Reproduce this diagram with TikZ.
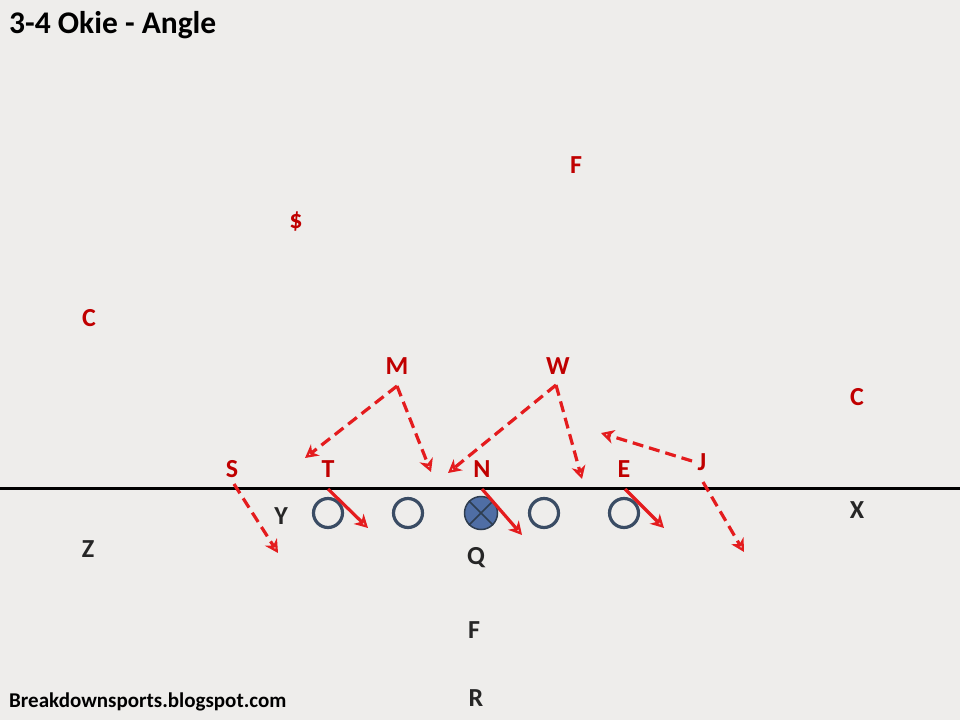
\documentclass[tikz,border=0pt]{standalone}
\usepackage{fontspec}
\setmainfont{Carlito}
\usetikzlibrary{arrows.meta}
\definecolor{bg}{RGB}{238,237,235}
\definecolor{defred}{RGB}{192,0,0}
\definecolor{arrred}{RGB}{228,28,30}
\definecolor{oline}{RGB}{58,76,100}
\definecolor{ofill}{RGB}{79,110,165}
\tikzset{
  defl/.style={text=defred,font=\fontsize{26}{26}\selectfont\bfseries,inner sep=0pt},
  offl/.style={text=black!85,font=\fontsize{26}{26}\selectfont\bfseries,inner sep=0pt},
  oman/.style={circle,draw=oline,line width=3.2pt,minimum size=29pt,inner sep=0pt},
  center/.style={circle,draw=oline!80!black,fill=ofill,line width=1.5pt,minimum size=33pt,inner sep=0pt},
  dasharrow/.style={draw=arrred,line width=3.2pt,dash pattern=on 11pt off 6pt,-{Stealth[length=13pt,width=14pt,inset=4pt,open,line width=3pt,sep=0pt]}},
  solarrow/.style={draw=arrred,line width=3.2pt,-{Stealth[length=13pt,width=14pt,inset=4pt,open,line width=3pt]}},
}
\begin{document}
\begin{tikzpicture}[x=1pt,y=-1pt]
\fill[bg] (0,0) rectangle (960,720);
\useasboundingbox (0,0) rectangle (960,720);
% title and footer
\node[anchor=west,inner sep=0pt,font=\fontsize{31.5}{31.5}\selectfont\bfseries] (title) at (9,25) {3-4 Okie - Angle};
\node[anchor=west,inner sep=0pt,font=\fontsize{21}{21}\selectfont\bfseries] (footer) at (9,702) {Breakdownsports.blogspot.com};
% line of scrimmage
\coordinate (losl) at (0,488);
\coordinate (losr) at (960,488);
\draw[line width=3pt,black] (losl) -- (losr);
% defense
\node[defl] (F) at (576,165) {F};
\node[defl] (D) at (296,222) {\$};
\node[defl] (CL) at (89,318) {C};
\node[defl] (M) at (397,366) {M};
\node[defl] (W) at (558,366) {W};
\node[defl] (CR) at (857,397) {C};
\node[defl] (S) at (232,469) {S};
\node[defl] (T) at (328,469) {T};
\node[defl] (N) at (482,469) {N};
\node[defl] (E) at (624,469) {E};
\node[defl] (J) at (702,462) {J};
% offense
\node[oman] (LT) at (328,513) {};
\node[oman] (LG) at (408,513) {};
\node[center] (C0) at (481,513) {};
\draw[oline!80!black,line width=1.5pt] (C0.north west) -- (C0.south east) (C0.north east) -- (C0.south west);
\node[oman] (RG) at (544,513) {};
\node[oman] (RT) at (624,513) {};
\node[offl] (Y) at (281,516) {Y};
\node[offl] (X) at (857,510) {X};
\node[offl] (Z) at (88,549) {Z};
\node[offl] (Q) at (476,558) {Q};
\node[offl] (FB) at (474,630) {F};
\node[offl] (R) at (476,698) {R};
% arrow coordinates
\coordinate (m0) at (397,386);
\coordinate (m1) at (305,458);
\coordinate (m2) at (431,472);
\coordinate (w0) at (556,385);
\coordinate (w1) at (448,473);
\coordinate (w2) at (582,479);
\coordinate (j0) at (692,461);
\coordinate (j1) at (601,433);
\coordinate (j2) at (703,482);
\coordinate (j3) at (744,552);
\coordinate (s0) at (234,484);
\coordinate (s1) at (278,553);
\coordinate (t0) at (328,489);
\coordinate (t1) at (368,528);
\coordinate (n0) at (482,489);
\coordinate (n1) at (522,535);
\coordinate (e0) at (625,489);
\coordinate (e1) at (664,528);
% stunts
\draw[dasharrow] (m0) -- (m1);
\draw[dasharrow] (m0) -- (m2);
\draw[dasharrow] (w0) -- (w1);
\draw[dasharrow] (w0) -- (w2);
\draw[dasharrow] (j0) -- (j1);
\draw[dasharrow] (j2) -- (j3);
\draw[dasharrow] (s0) -- (s1);
\draw[solarrow] (t0) -- (t1);
\draw[solarrow] (n0) -- (n1);
\draw[solarrow] (e0) -- (e1);
\end{tikzpicture}
\end{document}
